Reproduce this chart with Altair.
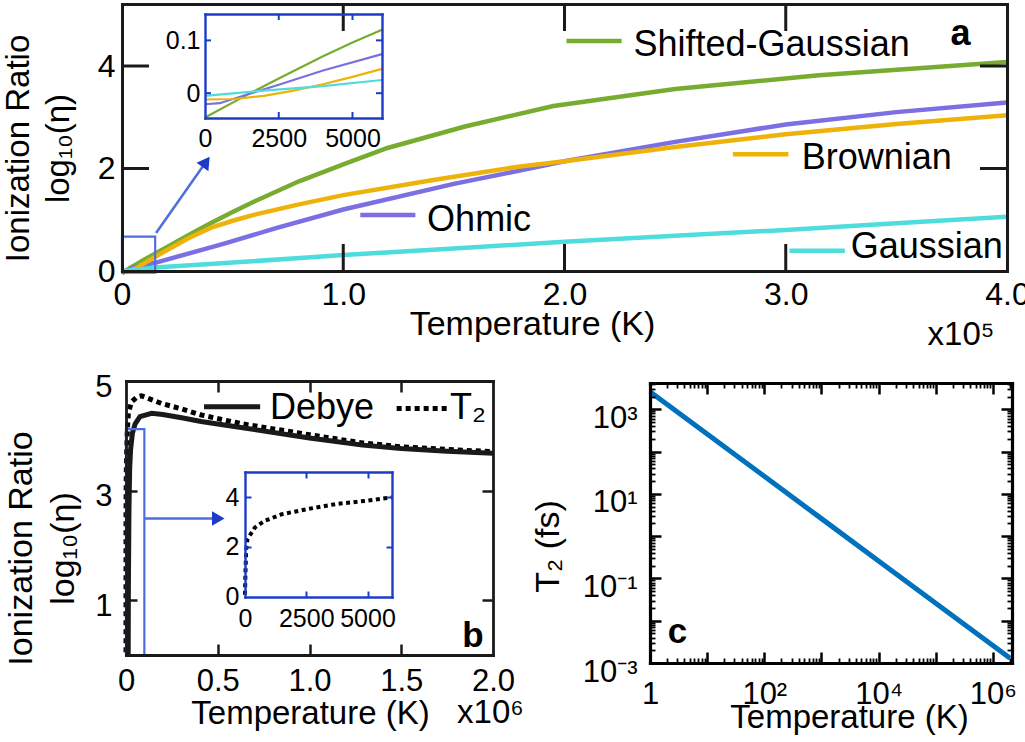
import altair as alt
import pandas as pd

W, H = 1025, 742
FONT = "Liberation Sans"
INK = "#1a1a1a"
FRAME_BLUE = "#1c3cc8"
LIGHT_BLUE = "#4d6ee0"

# ---------------- panel a data: log10(eta) vs temperature (K) ----------------
models = ["Shifted-Gaussian", "Ohmic", "Brownian", "Gaussian"]
model_colors = ["#77ac30", "#7b6fe3", "#efb20a", "#4fdcdc"]

sg_T = [0, 1600, 2500, 4000, 5000, 6000, 10000, 20000, 30000, 40000, 50000, 60000,
        80000, 100000, 120000, 155000, 195000, 250000, 315000, 400000]
sg_v = [-0.046, 0.002, 0.028, 0.07, 0.096, 0.12, 0.22, 0.46, 0.7, 0.93, 1.15, 1.36,
        1.75, 2.08, 2.4, 2.82, 3.22, 3.55, 3.82, 4.08]
oh_T = [0, 500, 1400, 2500, 4000, 6000, 15000, 45000, 70000, 100000, 150000, 200000,
        250000, 300000, 350000, 400000]
oh_v = [-0.021, -0.019, -0.003, 0.016, 0.043, 0.074, 0.16, 0.52, 0.84, 1.2, 1.7, 2.14,
        2.52, 2.86, 3.1, 3.29]
br_T = [0, 1000, 2000, 3000, 4000, 5000, 6000, 10000, 20000, 30000, 40000, 50000, 60000,
        80000, 100000, 140000, 180000, 200000, 250000, 300000, 350000, 400000]
br_v = [-0.012, -0.011, -0.005, 0.005, 0.017, 0.031, 0.046, 0.15, 0.4, 0.64, 0.84, 0.98, 1.1,
        1.3, 1.48, 1.77, 2.04, 2.14, 2.42, 2.67, 2.87, 3.04]
ga_T = [0, 1600, 4000, 6000, 15000, 45000, 100000, 150000, 200000, 250000, 300000, 350000, 400000]
ga_v = [-0.005, 0.003, 0.0135, 0.025, 0.07, 0.15, 0.31, 0.44, 0.57, 0.69, 0.8, 0.93, 1.06]

# ---------------- panel b data ----------------
b_series = ["Debye", "T₂"]
debye_T = [12000, 13000, 16000, 20000, 25000, 35000, 50000, 76000, 140000, 200000, 303000,
           410000, 590000, 1000000, 1290000, 1500000, 1750000, 2000000]
debye_v = [0.0, 1.2, 2.6, 3.4, 3.75, 4.05, 4.22, 4.35, 4.41, 4.39, 4.33,
           4.26, 4.17, 3.96, 3.83, 3.77, 3.72, 3.68]
t2_T = [0, 20, 50, 100, 400, 800, 1500, 2500, 3700, 4900, 6000, 9000, 13000, 30000, 60000,
        85000, 194000, 303000, 410000, 630000, 1000000, 1290000, 1500000, 1750000, 2000000]
t2_v = [0.05, 1.0, 1.9, 2.3, 2.77, 3.04, 3.31, 3.51, 3.72, 3.85, 3.99, 4.2, 4.42, 4.62, 4.71,
        4.73, 4.59, 4.49, 4.38, 4.22, 4.02, 3.87, 3.8, 3.75, 3.71]

# ---------------- panel c data ----------------
c_T = [1, 10, 100, 1000, 10000, 100000, 1000000, 2000000]
c_T2 = [2600, 260, 26, 2.6, 0.26, 0.026, 0.0026, 0.0013]

# tick / label values
a_xt = [0, 100000, 200000, 300000, 400000]
a_yt = [0, 2, 4]
ai_xt = [0, 2500, 5000]
ai_yt = [0, 0.1]
b_xt = [0, 500000, 1000000, 1500000, 2000000]
b_yt = [1, 3, 5]
bi_yt = [0, 2, 4]
c_xt = [1, 100, 10000, 1000000]
c_yt = [0.001, 0.1, 10, 1000]

# ---------------- geometry (pixel boxes of each plot area) ----------------
PA = dict(L=122, R=1007, T=4, B=271)
PAi = dict(L=205, R=382, T=14, B=118)
PB = dict(L=126, R=493, T=381, B=655)
PBi = dict(L=245, R=392, T=472, B=597)
PC = dict(L=650, R=1012, T=383, B=663)

dom_a = ([0, 400000], [0, 5.21])
dom_ai = ([0, 6000], [-0.047, 0.15])
dom_b = ([0, 2000000], [0, 5])
dom_bi = ([0, 6000], [-0.04, 5.02])
dom_c = ([1, 2160000], [0.001, 4200])


def sc(dom, rng, typ="linear"):
    if typ == "log":
        return alt.Scale(type="log", domain=dom, range=rng, nice=False)
    return alt.Scale(type="linear", domain=dom, range=rng, nice=False, zero=False)


xa = sc(dom_a[0], [PA["L"], PA["R"]]); ya = sc(dom_a[1], [PA["B"], PA["T"]])
xai = sc(dom_ai[0], [PAi["L"], PAi["R"]]); yai = sc(dom_ai[1], [PAi["B"], PAi["T"]])
xb = sc(dom_b[0], [PB["L"], PB["R"]]); yb = sc(dom_b[1], [PB["B"], PB["T"]])
xbi = sc(dom_bi[0], [PBi["L"], PBi["R"]]); ybi = sc(dom_bi[1], [PBi["B"], PBi["T"]])
xc = sc(dom_c[0], [PC["L"], PC["R"]], "log"); yc = sc(dom_c[1], [PC["B"], PC["T"]], "log")


def frame(df, xf, yf, P, xs, ys, color, width, xv, yv, size, twidth, ticks=True, domain=True):
    """Frame lines on every edge, with inward ticks (an axis on the opposite side of each edge)."""
    def ax(orient, offset, vals):
        return alt.Axis(orient=orient, offset=offset, values=vals, labels=False, grid=False,
                        ticks=ticks, tickSize=size, tickColor=color, tickWidth=twidth,
                        tickOpacity=1, domain=domain, domainColor=color, domainWidth=width,
                        domainCap="square", title=None, zindex=2)
    base = alt.Chart(df).mark_point(opacity=0)
    l1 = base.encode(x=alt.X(f"{xf}:Q", scale=xs, axis=ax("top", -P["B"], xv)),
                     y=alt.Y(f"{yf}:Q", scale=ys, axis=ax("right", P["L"] - W, yv)))
    l2 = base.encode(x=alt.X(f"{xf}:Q", scale=xs, axis=ax("bottom", P["T"] - H, xv)),
                     y=alt.Y(f"{yf}:Q", scale=ys, axis=ax("left", -P["R"], yv)))
    return [l1, l2]


def inward_ticks(xs, ys, dom, P, xv, yv, size, color, width, log=False):
    """Inward-pointing ticks on all four edges, drawn as short rules at the tick values."""
    (x0, x1), (y0, y1) = dom
    fx = size / (P["R"] - P["L"])
    fy = size / (P["B"] - P["T"])
    if log:
        xin0 = x0 * (x1 / x0) ** fx
        xin1 = x1 / (x1 / x0) ** fx
        yin0 = y0 * (y1 / y0) ** fy
        yin1 = y1 / (y1 / y0) ** fy
    else:
        xin0 = x0 + (x1 - x0) * fx
        xin1 = x1 - (x1 - x0) * fx
        yin0 = y0 + (y1 - y0) * fy
        yin1 = y1 - (y1 - y0) * fy
    n, m = len(xv), len(yv)
    vert = pd.DataFrame({"tx": [float(v) for v in xv] * 2,
                         "ta": [float(y0)] * n + [float(y1)] * n,
                         "tb": [float(yin0)] * n + [float(yin1)] * n})
    horz = pd.DataFrame({"ty": [float(v) for v in yv] * 2,
                         "ta": [float(x0)] * m + [float(x1)] * m,
                         "tb": [float(xin0)] * m + [float(xin1)] * m})
    return [
        alt.Chart(vert).mark_rule(strokeWidth=width, opacity=1).encode(
            x=alt.X("tx:Q", scale=xs, axis=None), y=alt.Y("ta:Q", scale=ys, axis=None),
            y2=alt.Y2("tb:Q"), color=alt.value(color)),
        alt.Chart(horz).mark_rule(strokeWidth=width, opacity=1).encode(
            x=alt.X("ta:Q", scale=xs, axis=None), x2=alt.X2("tb:Q"),
            y=alt.Y("ty:Q", scale=ys, axis=None), color=alt.value(color)),
    ]


def label_axes(df, xf, yf, xs, ys, xaxis, yaxis):
    return alt.Chart(df).mark_point(opacity=0).encode(
        x=alt.X(f"{xf}:Q", scale=xs, axis=xaxis), y=alt.Y(f"{yf}:Q", scale=ys, axis=yaxis))


lab = dict(ticks=False, tickSize=0, domain=False, grid=False, labelFont=FONT, labelColor="black",
           labelFlush=False, labelOverlap=False)
tit = dict(titleFont=FONT, titleColor="black", titleFontWeight="normal", titleAlign="center")

layers = []
tick_layers = []

# ======================= panel a =======================
df_a = pd.concat([
    pd.DataFrame({"T": sg_T, "v": sg_v, "m": models[0]}),
    pd.DataFrame({"T": oh_T, "v": oh_v, "m": models[1]}),
    pd.DataFrame({"T": br_T, "v": br_v, "m": models[2]}),
    pd.DataFrame({"T": ga_T, "v": ga_v, "m": models[3]}),
], ignore_index=True)

# panel a: frame lines from axes, ticks from short rules (drawn last)
layers += frame(df_a, "T", "v", PA, xa, ya, INK, 3, [100000, 200000, 300000], [2, 4], 27, 3, ticks=False)
tick_layers += inward_ticks(xa, ya, dom_a, PA, [100000, 200000, 300000], [2, 4], 27, INK, 3)
layers.append(label_axes(
    df_a, "T", "v", xa, ya,
    alt.Axis(orient="bottom", offset=PA["B"] - H, values=a_xt,
             labelExpr="datum.value == 0 ? '0' : format(datum.value / 100000, '.1f')",
             labelFontSize=32, labelPadding=8, title="Temperature (K)", titleFontSize=34,
             titleX=532, titleY=63, titleBaseline="alphabetic", **lab, **tit),
    alt.Axis(orient="left", offset=-PA["L"], values=a_yt, format="d", labelFontSize=32,
             labelPadding=7, title=["Ionization Ratio", "log₁₀(η)"], titleFontSize=33,
             titleAngle=270, titleBaseline="middle", titleLineHeight=40,
             titleX=18 - PA["L"], titleY=148, **lab, **tit)))

color_a = alt.Color("m:N", scale=alt.Scale(domain=models, range=model_colors), legend=None)
layers.append(alt.Chart(df_a).mark_line(strokeWidth=4.5).encode(
    x=alt.X("T:Q", scale=xa, axis=None), y=alt.Y("v:Q", scale=ya, axis=None), color=color_a))

# zoom box + arrow
box_a = pd.DataFrame({"x": [0], "x2": [15000], "y": [-0.03], "y2": [0.67]})
layers.append(alt.Chart(box_a).mark_rect(fillOpacity=0, stroke=LIGHT_BLUE, strokeWidth=2.2).encode(
    x=alt.X("x:Q", scale=xa, axis=None), x2="x2:Q", y=alt.Y("y:Q", scale=ya, axis=None), y2="y2:Q"))
arr_a = pd.DataFrame({"x": [15400, 38000], "y": [0.74, 2.13]})
layers.append(alt.Chart(arr_a).mark_line(color=LIGHT_BLUE, strokeWidth=2.5).encode(
    x=alt.X("x:Q", scale=xa, axis=None), y=alt.Y("y:Q", scale=ya, axis=None)))
layers.append(alt.Chart(arr_a.tail(1)).mark_point(shape="triangle-up", angle=35, size=210, filled=True,
                                                  color=FRAME_BLUE, opacity=1).encode(
    x=alt.X("x:Q", scale=xa, axis=None), y=alt.Y("y:Q", scale=ya, axis=None)))

# in-plot legend
leg_a = pd.DataFrame({"m": models,
                      "x1": [200900, 107700, 276100, 301700], "x2": [225800, 132600, 301200, 326700],
                      "y": [4.49, 1.093, 2.277, 0.396],
                      "tx": [231200, 137900, 307200, 329400], "ty": [4.41, 0.995, 2.2, 0.459]})
layers.append(alt.Chart(leg_a).mark_rule(strokeWidth=4.5).encode(
    x=alt.X("x1:Q", scale=xa, axis=None), x2="x2:Q", y=alt.Y("y:Q", scale=ya, axis=None), color=color_a))
layers.append(alt.Chart(leg_a).mark_text(align="left", baseline="middle", font=FONT, fontSize=36,
                                         color="black").encode(
    x=alt.X("tx:Q", scale=xa, axis=None), y=alt.Y("ty:Q", scale=ya, axis=None), text="m:N"))
txt_a = pd.DataFrame({"x": [379000], "y": [4.63], "t": ["a"]})
layers.append(alt.Chart(txt_a).mark_text(align="center", baseline="middle", font=FONT, fontSize=36,
                                         fontWeight="bold", color="black").encode(
    x=alt.X("x:Q", scale=xa, axis=None), y=alt.Y("y:Q", scale=ya, axis=None), text="t:N"))
mult_a = pd.DataFrame({"x": [364100], "y": [-1.444], "t": ["x10⁵"]})
layers.append(alt.Chart(mult_a).mark_text(align="left", baseline="alphabetic", font=FONT, fontSize=33,
                                          color="black").encode(
    x=alt.X("x:Q", scale=xa, axis=None), y=alt.Y("y:Q", scale=ya, axis=None), text="t:N"))

# ----- inset a -----
df_ai = df_a[df_a["T"] <= 6000]
layers += frame(df_ai, "T", "v", PAi, xai, yai, FRAME_BLUE, 2.4, [2500, 5000], [0, 0.1], 6, 2, ticks=False)
tick_layers += inward_ticks(xai, yai, dom_ai, PAi, [2500, 5000], [0, 0.1], 6, FRAME_BLUE, 2)
layers.append(label_axes(
    df_ai, "T", "v", xai, yai,
    alt.Axis(orient="bottom", offset=PAi["B"] - H, values=ai_xt, format="d", labelFontSize=25,
             labelPadding=8, title=None, **lab),
    alt.Axis(orient="left", offset=-PAi["L"], values=ai_yt,
             labelExpr="datum.value == 0 ? '0' : format(datum.value, '.1f')",
             labelFontSize=25, labelPadding=5, title=None, **lab)))
layers.append(alt.Chart(df_ai).mark_line(strokeWidth=2.2).encode(
    x=alt.X("T:Q", scale=xai, axis=None), y=alt.Y("v:Q", scale=yai, axis=None), color=color_a))

# ======================= panel b =======================
df_b = pd.concat([
    pd.DataFrame({"T": debye_T, "v": debye_v, "s": b_series[0]}),
    pd.DataFrame({"T": t2_T, "v": t2_v, "s": b_series[1]}),
], ignore_index=True)
# panel b: frame lines and inward ticks both from axes (drawn above marks)
layers += frame(df_b, "T", "v", PB, xb, yb, INK, 2.8, [500000, 1000000, 1500000], [1, 3], 11, 2.5)
layers.append(label_axes(
    df_b, "T", "v", xb, yb,
    alt.Axis(orient="bottom", offset=PB["B"] - H, values=b_xt,
             labelExpr="datum.value == 0 ? '0' : format(datum.value / 1000000, '.1f')",
             labelFontSize=31, labelPadding=11, title="Temperature (K)", titleFontSize=33,
             titleX=310, titleY=68, titleBaseline="alphabetic", **lab, **tit),
    alt.Axis(orient="left", offset=-PB["L"], values=b_yt, format="d", labelFontSize=31,
             labelPadding=14, labelOffset=6, title=["Ionization Ratio", "log₁₀(η)"], titleFontSize=34,
             titleAngle=270, titleBaseline="middle", titleLineHeight=42,
             titleX=21 - PB["L"], titleY=548, **lab, **tit)))

debye = df_b[df_b["s"] == b_series[0]]
t2 = df_b[df_b["s"] == b_series[1]]
layers.append(alt.Chart(t2).mark_line(color="black", strokeWidth=5, strokeDash=[5, 4]).encode(
    x=alt.X("T:Q", scale=xb, axis=None), y=alt.Y("v:Q", scale=yb, axis=None)))
layers.append(alt.Chart(debye).mark_line(color=INK, strokeWidth=5).encode(
    x=alt.X("T:Q", scale=xb, axis=None), y=alt.Y("v:Q", scale=yb, axis=None)))

box_b = pd.DataFrame({"x": [0], "x2": [100000], "y": [0], "y2": [4.12]})
layers.append(alt.Chart(box_b).mark_rect(fillOpacity=0, stroke=LIGHT_BLUE, strokeWidth=2.2).encode(
    x=alt.X("x:Q", scale=xb, axis=None), x2="x2:Q", y=alt.Y("y:Q", scale=yb, axis=None), y2="y2:Q"))
arr_b = pd.DataFrame({"x": [100000, 503000], "y": [2.49, 2.49]})
layers.append(alt.Chart(arr_b).mark_line(color=LIGHT_BLUE, strokeWidth=2.5).encode(
    x=alt.X("x:Q", scale=xb, axis=None), y=alt.Y("y:Q", scale=yb, axis=None)))
layers.append(alt.Chart(arr_b.tail(1)).mark_point(shape="triangle-right", size=210, filled=True,
                                                  color=FRAME_BLUE, opacity=1).encode(
    x=alt.X("x:Q", scale=xb, axis=None), y=alt.Y("y:Q", scale=yb, axis=None)))

leg_b = pd.DataFrame({"s": b_series, "x1": [425000, 1475000], "x2": [731000, 1757000],
                      "y": [4.53, 4.5], "tx": [785000, 1766000], "ty": [4.51, 4.51]})
layers.append(alt.Chart(leg_b.head(1)).mark_rule(color=INK, strokeWidth=5).encode(
    x=alt.X("x1:Q", scale=xb, axis=None), x2="x2:Q", y=alt.Y("y:Q", scale=yb, axis=None)))
layers.append(alt.Chart(leg_b.tail(1)).mark_rule(color="black", strokeWidth=5, strokeDash=[5, 4]).encode(
    x=alt.X("x1:Q", scale=xb, axis=None), x2="x2:Q", y=alt.Y("y:Q", scale=yb, axis=None)))
layers.append(alt.Chart(leg_b).mark_text(align="left", baseline="middle", font=FONT, fontSize=36,
                                         color="black").encode(
    x=alt.X("tx:Q", scale=xb, axis=None), y=alt.Y("ty:Q", scale=yb, axis=None), text="s:N"))
txt_b = pd.DataFrame({"x": [1891000], "y": [0.35], "t": ["b"]})
layers.append(alt.Chart(txt_b).mark_text(align="center", baseline="middle", font=FONT, fontSize=35,
                                         fontWeight="bold", color="black").encode(
    x=alt.X("x:Q", scale=xb, axis=None), y=alt.Y("y:Q", scale=yb, axis=None), text="t:N"))
mult_b = pd.DataFrame({"x": [1804000], "y": [-1.236], "t": ["x10⁶"]})
layers.append(alt.Chart(mult_b).mark_text(align="left", baseline="alphabetic", font=FONT, fontSize=33,
                                          color="black").encode(
    x=alt.X("x:Q", scale=xb, axis=None), y=alt.Y("y:Q", scale=yb, axis=None), text="t:N"))

# ----- inset b -----
t2_in = t2[t2["T"] <= 6000]
layers += frame(t2_in, "T", "v", PBi, xbi, ybi, FRAME_BLUE, 2.4, [2500, 5000], [2, 4], 6, 2)
layers.append(label_axes(
    t2_in, "T", "v", xbi, ybi,
    alt.Axis(orient="bottom", offset=PBi["B"] - H, values=ai_xt, format="d", labelFontSize=25,
             labelPadding=9, title=None, **lab),
    alt.Axis(orient="left", offset=-PBi["L"], values=bi_yt, format="d", labelFontSize=25,
             labelPadding=6, title=None, **lab)))
layers.append(alt.Chart(t2_in).mark_line(color="black", strokeWidth=4, strokeDash=[4, 3.5]).encode(
    x=alt.X("T:Q", scale=xbi, axis=None), y=alt.Y("v:Q", scale=ybi, axis=None)))

# ======================= panel c =======================
df_c = pd.DataFrame({"T": c_T, "T2": c_T2})
c_major_x = [10 ** d for d in range(1, 7)]
c_major_y = [10.0 ** d for d in range(-2, 4)]
c_minor_x = [k * 10 ** d for d in range(0, 7) for k in range(2, 10) if k * 10 ** d <= 2160000]
c_minor_y = [k * 10.0 ** d for d in range(-3, 4) for k in range(2, 10) if k * 10.0 ** d <= 4200]
# panel c: frame lines and inward ticks both from axes (drawn above marks)
layers += frame(df_c, "T", "T2", PC, xc, yc, "black", 3.2, c_major_x, c_major_y, 11, 2.5)
layers += frame(df_c, "T", "T2", PC, xc, yc, "black", 3.2, c_minor_x, c_minor_y, 5, 1.8, domain=False)
sup = ("(round(log(datum.value)/LN10) == -3 ? '10⁻³' : round(log(datum.value)/LN10) == -1 ? '10⁻¹' : "
       "round(log(datum.value)/LN10) == 0 ? '1' : round(log(datum.value)/LN10) == 1 ? '10¹' : "
       "round(log(datum.value)/LN10) == 2 ? '10²' : round(log(datum.value)/LN10) == 3 ? '10³' : "
       "round(log(datum.value)/LN10) == 4 ? '10⁴' : '10⁶')")
layers.append(label_axes(
    df_c, "T", "T2", xc, yc,
    alt.Axis(orient="bottom", offset=PC["B"] - H, values=c_xt, labelExpr=sup, labelFontSize=31,
             labelPadding=40, labelBaseline="alphabetic", title="Temperature (K)", titleFontSize=33,
             titleX=849, titleY=64, titleBaseline="alphabetic", **lab, **tit),
    alt.Axis(orient="left", offset=-PC["L"], values=c_yt, labelExpr=sup, labelFontSize=31,
             labelPadding=13, labelBaseline="middle", labelOffset=9, title="T₂ (fs)",
             titleFontSize=34, titleAngle=270, titleBaseline="middle",
             titleX=548 - PC["L"], titleY=546, **lab, **tit)))
layers.append(alt.Chart(df_c).mark_line(color="#0072bd", strokeWidth=5).encode(
    x=alt.X("T:Q", scale=xc, axis=None), y=alt.Y("T2:Q", scale=yc, axis=None)))
txt_c = pd.DataFrame({"x": [3.03], "y": [0.0053], "t": ["c"]})
layers.append(alt.Chart(txt_c).mark_text(align="center", baseline="middle", font=FONT, fontSize=35,
                                         fontWeight="bold", color="black").encode(
    x=alt.X("x:Q", scale=xc, axis=None), y=alt.Y("y:Q", scale=yc, axis=None), text="t:N"))

layers += tick_layers

chart = alt.layer(*layers).resolve_scale(
    x="independent", y="independent", color="independent"
).properties(
    width=W, height=H, padding=0, autosize=alt.AutoSizeParams(type="none"), background="white"
).configure_view(strokeWidth=0)

chart.save("out.html", embed_options={"renderer": "svg", "actions": False})
